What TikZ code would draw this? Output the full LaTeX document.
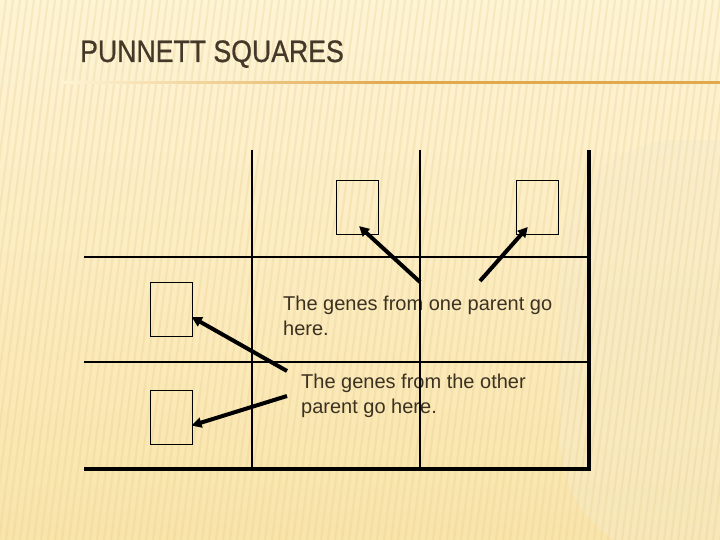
\documentclass[tikz,border=0pt]{standalone}
\usepackage{fontspec}
\setmainfont{Liberation Sans}
\newfontfamily\titlefont[FakeBold=0.8]{Liberation Sans}
\usetikzlibrary{arrows.meta,calc}
\definecolor{bgtop}{RGB}{254,244,214}
\definecolor{bgbot}{RGB}{249,228,170}
\definecolor{stripe}{RGB}{232,205,140}
\definecolor{blobcol}{RGB}{246,236,205}
\definecolor{titlecol}{RGB}{68,56,40}
\definecolor{textcol}{RGB}{60,50,34}
\definecolor{rulecol}{RGB}{226,168,78}
\tikzset{
  gridline/.style={line width=2.6pt, black},
  gridthick/.style={line width=3.6pt, black},
  genebox/.style={draw=black, line width=0.9pt, minimum width=42pt, minimum height=54pt, inner sep=0pt},
  genearrow/.style={line width=4pt, black, -{Triangle[length=10pt,width=10pt]}, shorten >=-2pt},
  caption/.style={font=\fontsize{20}{25}\selectfont, text=textcol, align=left, anchor=north west, inner sep=0pt}
}
\begin{document}
\begin{tikzpicture}[x=1pt,y=-1pt]
\useasboundingbox (0,0) rectangle (720,540);
% background
\shade[top color=bgtop, bottom color=bgbot] (0,0) rectangle (720,540);
\begin{scope}
\clip (0,0) rectangle (720,540);
\fill[blobcol, opacity=0.45, rounded corners=120pt] (560,140) rectangle (900,560);
\foreach \s in {-120,-113,...,760}{
  \draw[stripe, opacity=0.28, line width=2.2pt] (\s,540) -- (\s+70,0);
}
\end{scope}
% title
\node[anchor=base west, inner sep=0pt, text=titlecol, font=\titlefont\fontsize{31}{31}\selectfont, xscale=0.86] (title) at (80,62) {PUNNETT SQUARES};
\shade[left color=bgtop, right color=rulecol, middle color=rulecol] (62,81.5) rectangle (720,84);
% captions
\node[caption] (cap1) at (283,295.5) {The genes from one parent go\\here.};
\node[caption] (cap2) at (301,373.5) {The genes from the other\\parent go here.};
% grid
\coordinate (v1t) at (252,150); \coordinate (v1b) at (252,470);
\coordinate (v2t) at (420,150); \coordinate (v2b) at (420,470);
\coordinate (v3t) at (589,150); \coordinate (v3b) at (589,471);
\coordinate (h1l) at (84,257); \coordinate (h1r) at (589,257);
\coordinate (h2l) at (84,362); \coordinate (h2r) at (589,362);
\coordinate (h3l) at (84,469); \coordinate (h3r) at (591,469);
\draw[gridline] (v1t) -- (v1b);
\draw[gridline] (v2t) -- (v2b);
\draw[gridthick] (v3t) -- (v3b);
\draw[gridline] (h1l) -- (h1r);
\draw[gridline] (h2l) -- (h2r);
\draw[gridthick] (h3l) -- (h3r);
% boxes
\node[genebox] (b1) at (357.5,207) {};
\node[genebox] (b2) at (537,207) {};
\node[genebox] (b3) at (171,309) {};
\node[genebox] (b4) at (171,417) {};
% arrows
\coordinate (a1) at (420,282);
\coordinate (a2) at (480,281);
\coordinate (a3) at (287,371);
\coordinate (a4) at (287,396);
\draw[genearrow] (a1) -- ($(b1.south)+(3,-7)$);
\draw[genearrow] (a2) -- ($(b2.south west)+(11,-6)$);
\draw[genearrow] (a3) -- ($(b3.east)+(1,9)$);
\draw[genearrow] (a4) -- ($(b4.east)+(1,8)$);
\end{tikzpicture}
\end{document}
